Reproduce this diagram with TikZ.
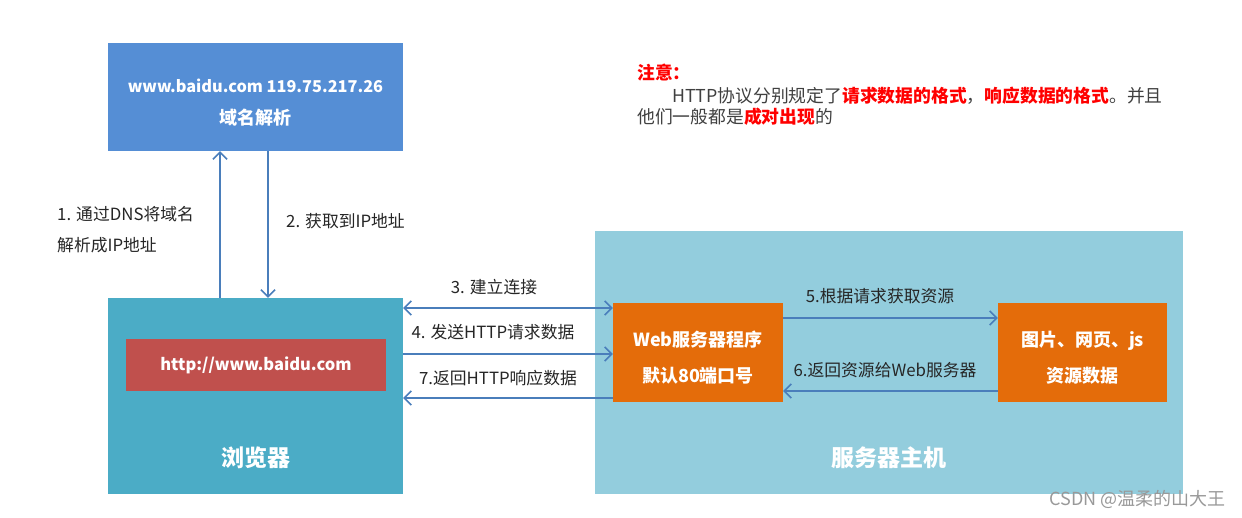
\documentclass[tikz,border=0pt]{standalone}
\usepackage{fontspec}
\setmainfont{Noto Sans CJK SC}
\usetikzlibrary{arrows.meta}
\definecolor{dnsblue}{HTML}{558ED5}
\definecolor{browsercol}{HTML}{4BACC6}
\definecolor{urlred}{HTML}{C0504D}
\definecolor{hostcol}{HTML}{93CDDD}
\definecolor{orangebox}{HTML}{E46C0A}
\definecolor{arrowcol}{HTML}{4A7EBB}
\definecolor{labelcol}{HTML}{262626}
\definecolor{notered}{HTML}{FF0000}
\definecolor{notegray}{HTML}{404040}
\tikzset{
  boxbase/.style={rectangle, inner sep=0pt, draw=none, text=white, font=\bfseries\fontsize{18}{22}\selectfont, align=center},
  arr/.style={draw=arrowcol, line width=1.8pt, -{Straight Barb[length=7pt,width=14pt,line width=1.6pt]}},
  darr/.style={draw=arrowcol, line width=1.8pt, {Straight Barb[length=7pt,width=14pt,line width=1.6pt]}-{Straight Barb[length=7pt,width=14pt,line width=1.6pt]}},
  lbl/.style={inner sep=0pt, text=labelcol, font=\fontsize{16.8}{20}\selectfont},
  notetxt/.style={inner sep=0pt, anchor=west, text=notegray, font=\fontsize{17.8}{21}\selectfont},
}
\begin{document}
\begin{tikzpicture}[x=1pt,y=-1pt]
\useasboundingbox[fill=white] (0,0) rectangle (1242,517);

% boxes
\node[boxbase, fill=hostcol, minimum width=588pt, minimum height=263pt] (host) at (889,362.5) {};
\node[boxbase, fill=dnsblue, minimum width=295pt, minimum height=108pt] (dns) at (255.5,97) {};
\node[boxbase, fill=browsercol, minimum width=295pt, minimum height=196pt] (browser) at (255.5,396) {};
\node[boxbase, fill=urlred, minimum width=260pt, minimum height=52pt, font=\bfseries\fontsize{16.5}{20}\selectfont] (url) at (256,365) {http://www.baidu.com};
\node[boxbase, fill=orangebox, minimum width=170pt, minimum height=99pt] (web) at (698,352.5) {};
\node[boxbase, fill=orangebox, minimum width=169pt, minimum height=99pt] (res) at (1082.5,352.5) {};

% box texts
\node[boxbase, font=\bfseries\fontsize{16.3}{20}\selectfont] (dnst1) at (255.5,86) {www.baidu.com 119.75.217.26};
\node[boxbase] (dnst2) at (255.5,118) {域名解析};
\node[boxbase, font=\bfseries\fontsize{23}{26}\selectfont] (browsert) at (256,458) {浏览器};
\node[boxbase, font=\bfseries\fontsize{23}{26}\selectfont] (hostt) at (889,458) {服务器主机};
\node[boxbase] (webt1) at (698,340) {Web服务器程序};
\node[boxbase] (webt2) at (698,376) {默认80端口号};
\node[boxbase] (rest1) at (1082.5,341) {图片、网页、js};
\node[boxbase] (rest2) at (1082.5,376) {资源数据};

% helper coordinates
\coordinate (xup) at (220,0);
\coordinate (xdown) at (268,0);
\coordinate (y3) at (0,308);
\coordinate (y4) at (0,354);
\coordinate (y7) at (0,398);
\coordinate (y5) at (0,318);
\coordinate (y6) at (0,391);

% vertical arrows
\draw[arr] (xup |- browser.north) -- (xup |- dns.south);
\draw[arr] (xdown |- dns.south) -- (xdown |- browser.north);

% horizontal arrows
\draw[darr] (browser.east |- y3) -- (web.west |- y3);
\draw[arr] (browser.east |- y4) -- (web.west |- y4);
\draw[arr] (web.west |- y7) -- (browser.east |- y7);
\draw[arr] (web.east |- y5) -- (res.west |- y5);
\draw[arr] (res.west |- y6) -- (web.east |- y6);

% labels
\node[lbl, anchor=west] (l1a) at (57,214) {1. 通过DNS将域名};
\node[lbl, anchor=west] (l1b) at (57,245) {解析成IP地址};
\node[lbl, anchor=west] (l2) at (286,221) {2. 获取到IP地址};
\node[lbl] (l3) at (494,287) {3. 建立连接};
\node[lbl] (l4) at (493,332) {4. 发送HTTP请求数据};
\node[lbl] (l7) at (498,378) {7.返回HTTP响应数据};
\node[lbl] (l5) at (880,296) {5.根据请求获取资源};
\node[lbl] (l6) at (885,370) {6.返回资源给Web服务器};

% note
\node[notetxt, text=notered, font=\bfseries\fontsize{17.8}{21}\selectfont] (n0) at (637,73) {注意：};
\node[notetxt] (n1) at (672,96) {HTTP协议分别规定了\textcolor{notered}{\bfseries 请求数据的格式}，\textcolor{notered}{\bfseries 响应数据的格式}。并且};
\node[notetxt] (n2) at (637,117) {他们一般都是\textcolor{notered}{\bfseries 成对出现}的};

% watermark
\node[inner sep=0pt, anchor=east, text=gray!80, font=\fontsize{18}{22}\selectfont] (wm) at (1226,499) {CSDN @温柔的山大王};
\end{tikzpicture}
\end{document}
